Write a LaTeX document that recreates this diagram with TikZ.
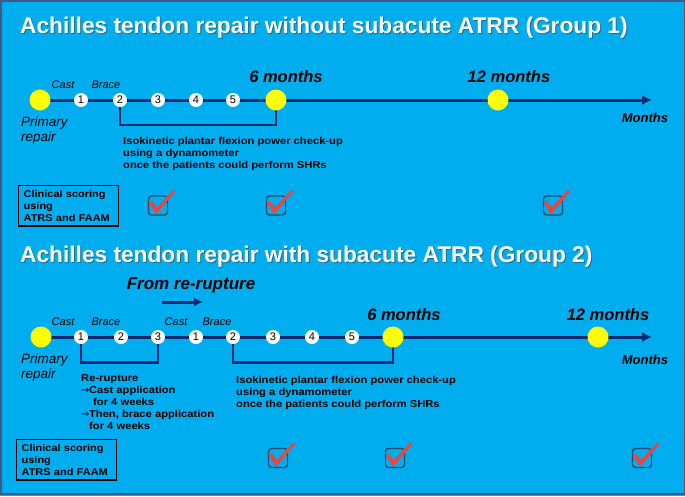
\documentclass[tikz,border=0pt]{standalone}
\usepackage{fontspec}
\setmainfont{Liberation Sans}
\newfontfamily\widesans[FakeStretch=1.12]{Liberation Sans}
\newfontfamily\arrowfont{DejaVu Sans}
\usetikzlibrary{arrows.meta}
\definecolor{sky}{HTML}{00AEEF}
\definecolor{navy}{HTML}{0B2A6F}
\definecolor{dotyellow}{HTML}{FFFF00}
\definecolor{tickred}{HTML}{E8473F}
\definecolor{boxline}{HTML}{2C4A6A}
\definecolor{frameline}{HTML}{3C5A8A}
\pgfdeclarelayer{back}
\pgfsetlayers{back,main}
\tikzset{
  tl/.style={draw=navy, line width=3pt},
  brk/.style={draw=navy, line width=2.5pt},
  bigdot/.style={circle, fill=dotyellow, minimum size=21pt, inner sep=0pt},
  numdot/.style={circle, fill=white, minimum size=14pt, inner sep=0pt, font=\fontsize{11}{11}\selectfont},
  phase/.style={anchor=base, inner sep=0pt, font=\fontsize{11}{11}\selectfont\itshape},
  mlab/.style={anchor=base, inner sep=0pt, font=\fontsize{16.5}{16.5}\selectfont\bfseries\itshape},
  unitlab/.style={anchor=base, inner sep=0pt, font=\fontsize{13}{13}\selectfont\bfseries\itshape},
  side/.style={anchor=north west, inner sep=0pt, align=left, font=\fontsize{13.5}{14.5}\selectfont\itshape},
  titletxt/.style={anchor=base west, inner sep=0pt, text=white, font=\fontsize{22.7}{22.7}\selectfont\bfseries},
  titleshd/.style={titletxt, text=black!80, opacity=0.5},
  note/.style={anchor=north west, inner sep=0pt, align=left, font=\widesans\fontsize{10}{12}\selectfont\bfseries},
  scorebox/.style={draw=black, line width=1.3pt, anchor=north west, inner xsep=5pt, inner ysep=4.5pt, text width=90pt, align=left, font=\widesans\fontsize{9.8}{12}\selectfont\bfseries},
  chkbox/.style={draw=boxline, line width=1.4pt, rounded corners=3pt, minimum size=19pt, inner sep=0pt},
  tickmark/.style={fill=tickred, draw=tickred, line width=0.4pt, line join=round}
}
\newcommand{\CheckAt}[1]{%
  \filldraw[tickmark] (#1) ++(-9,-3) -- ++(3,-1.5) -- ++(4.5,7) -- ++(17,-18) -- ++(1.5,1.5) -- ++(-19,22.5) -- cycle;
}
\newcommand{\toarrow}{{\arrowfont\mdseries →}\kern-0.5pt}

\begin{document}
\begin{tikzpicture}[x=1pt, y=-1pt]
  \useasboundingbox (0,0) rectangle (685,496);
  \begin{pgfonlayer}{back}
    \fill[sky] (0,0) rectangle (685,496);
    \draw[frameline, line width=1.5pt] (0.75,0.75) rectangle (684.25,494);
  \end{pgfonlayer}

  % Group 1
  \node[titleshd] (t1s) at (21,34) {Achilles tendon repair without subacute ATRR (Group 1)};
  \node[titletxt] (t1) at (20,33) {Achilles tendon repair without subacute ATRR (Group 1)};

  \node[bigdot] (a0) at (40,100) {};
  \node[numdot] (a1) at (81,100) {1};
  \node[numdot] (a2) at (120,100) {2};
  \node[numdot] (a3) at (158,100) {3};
  \node[numdot] (a4) at (196,100) {4};
  \node[numdot] (a5) at (233,100) {5};
  \node[bigdot] (a6) at (276,100) {};
  \node[bigdot] (a12) at (498,100) {};
  \coordinate (aend) at (652,100);

  \begin{pgfonlayer}{back}
    \draw[tl, -{Latex[length=10pt,width=10pt]}] (a0.center) -- (aend);
    \draw[brk] (a2.center) -- ++(0,25) -| (a6.center);
  \end{pgfonlayer}

  \node[phase] (acast) at (63,88) {Cast};
  \node[phase] (abrace) at (106,88) {Brace};
  \node[mlab] (am6) at (286,82) {6 months};
  \node[mlab] (am12) at (509,82) {12 months};
  \node[unitlab] (aunit) at (645,122) {Months};
  \node[side] (apr) at (21,117) {Primary\\repair};
  \node[note] (aiso) at (123,137) {Isokinetic plantar flexion power check-up\\using a dynamometer\\once the patients could perform SHRs};

  \node[scorebox] (acs) at (18,185) {Clinical scoring\\using\\ATRS and FAAM};
  \node[chkbox] (ak1) at (158,205.5) {};
  \node[chkbox] (ak2) at (276,205.5) {};
  \node[chkbox] (ak3) at (553,205.5) {};
  \CheckAt{ak1} \CheckAt{ak2} \CheckAt{ak3}

  % Group 2
  \node[titleshd] (t2s) at (21,263) {Achilles tendon repair with subacute ATRR (Group 2)};
  \node[titletxt] (t2) at (20,262) {Achilles tendon repair with subacute ATRR (Group 2)};

  \node[mlab, font=\fontsize{17}{17}\selectfont\bfseries\itshape] (rr) at (191,289) {From re-rupture};
  \coordinate (rr0) at (162,302);
  \coordinate (rr1) at (203,302);
  \draw[tl, -{Latex[length=9pt,width=9pt]}] (rr0) -- (rr1);

  \node[bigdot] (b0) at (41,337) {};
  \node[numdot] (b1) at (81,337) {1};
  \node[numdot] (b2) at (121,337) {2};
  \node[numdot] (b3) at (158,337) {3};
  \node[numdot] (c1) at (196,337) {1};
  \node[numdot] (c2) at (233,337) {2};
  \node[numdot] (c3) at (273,337) {3};
  \node[numdot] (c4) at (312,337) {4};
  \node[numdot] (c5) at (352,337) {5};
  \node[bigdot] (b6) at (393,337) {};
  \node[bigdot] (b12) at (598,337) {};
  \coordinate (bend) at (652,337);

  \begin{pgfonlayer}{back}
    \draw[tl, -{Latex[length=10pt,width=10pt]}] (b0.center) -- (bend);
    \draw[brk] (b1.center) -- ++(0,25.5) -| (b3.center);
    \draw[brk] (c2.center) -- ++(0,25.5) -| (b6.center);
  \end{pgfonlayer}

  \node[phase] (bcast) at (63,325) {Cast};
  \node[phase] (bbrace) at (106,325) {Brace};
  \node[phase] (ccast) at (176,325) {Cast};
  \node[phase] (cbrace) at (217,325) {Brace};
  \node[mlab] (bm6) at (404,320) {6 months};
  \node[mlab] (bm12) at (608,320) {12 months};
  \node[unitlab] (bunit) at (645,364) {Months};
  \node[side] (bpr) at (21,354) {Primary\\repair};
  \node[note] (brr) at (81,374) {Re-rupture\\\toarrow Cast application\\\hspace*{12pt}for 4 weeks\\\toarrow Then, brace application\\\hspace*{8pt}for 4 weeks};
  \node[note] (biso) at (236,376) {Isokinetic plantar flexion power check-up\\using a dynamometer\\once the patients could perform SHRs};

  \node[scorebox] (bcs) at (16,439) {Clinical scoring\\using\\ATRS and FAAM};
  \node[chkbox] (bk1) at (278,458) {};
  \node[chkbox] (bk2) at (395,458) {};
  \node[chkbox] (bk3) at (642,458) {};
  \CheckAt{bk1} \CheckAt{bk2} \CheckAt{bk3}
\end{tikzpicture}
\end{document}
